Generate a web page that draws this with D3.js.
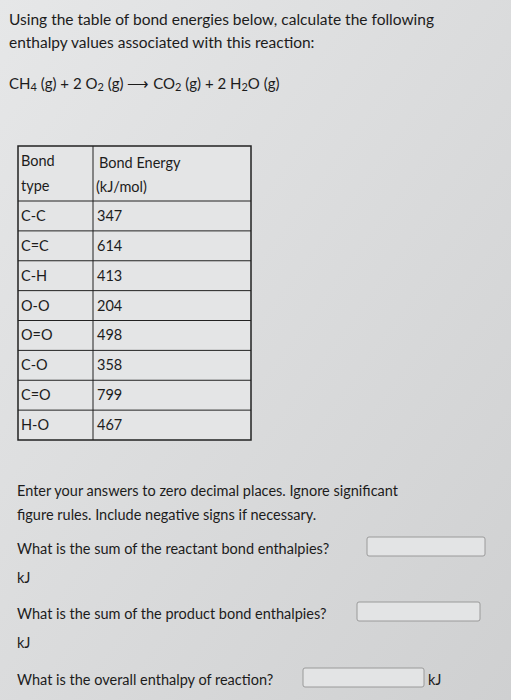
<!DOCTYPE html>
<html><head><meta charset="utf-8">
<script src="https://cdn.jsdelivr.net/npm/d3@7"></script>
<style>body{margin:0;background:#d8d9da}svg{display:block}</style>
</head><body>
<script>
const bonds = ['C-C', 'C=C', 'C-H', 'O-O', 'O=O', 'C-O', 'C=O', 'H-O']
const energies = [347, 614, 413, 204, 498, 358, 799, 467]
const introLines = ['Using the table of bond energies below, calculate the following', 'enthalpy values associated with this reaction:']
const noteLines = ['Enter your answers to zero decimal places. Ignore significant', 'figure rules. Include negative signs if necessary.']
const questions = [
  {q: 'What is the sum of the reactant bond enthalpies?', y: 549, box: [367, 485], unitBelow: true},
  {q: 'What is the sum of the product bond enthalpies?', y: 614, box: [357, 480], unitBelow: true},
  {q: 'What is the overall enthalpy of reaction?', y: 680, box: [303, 424], unitBelow: false}
]

const svg = d3.select('body').append('svg').attr('width', 511).attr('height', 700)
  .style('font-family', 'Lato, sans-serif').style('fill', '#1c1c1c')

const defs = svg.append('defs')
const grad = defs.append('linearGradient').attr('id', 'bg').attr('x1', 0).attr('x2', 1).attr('y1', 0).attr('y2', 1)
grad.append('stop').attr('offset', 0).attr('stop-color', '#e6e7e8')
grad.append('stop').attr('offset', 1).attr('stop-color', '#cfd0d1')
svg.append('rect').attr('width', 511).attr('height', 700).attr('fill', 'url(#bg)')

svg.selectAll('.intro').data(introLines).join('text')
  .attr('x', 9).attr('y', (d, i) => 25 + i * 23).attr('font-size', 15.5).text(d => d)

// equation
const eq = svg.append('text').attr('x', 9).attr('y', 89).attr('font-size', 15)
eq.append('tspan').text('CH')
eq.append('tspan').attr('font-size', 11).attr('dy', 2).text('4')
eq.append('tspan').attr('dy', -2).text(' (g) + 2 O')
eq.append('tspan').attr('font-size', 11).attr('dy', 2).text('2')
eq.append('tspan').attr('dy', -2).text(' (g) ⟶ CO')
eq.append('tspan').attr('font-size', 11).attr('dy', 2).text('2')
eq.append('tspan').attr('dy', -2).text(' (g)  +  2 H')
eq.append('tspan').attr('font-size', 11).attr('dy', 2).text('2')
eq.append('tspan').attr('dy', -2).text('O (g)')

// table
const y = d3.scaleBand().domain(bonds).range([201, 440])
const x0 = 18, x1 = 93, x2 = 251, tableTop = 146
const tbl = svg.append('g')
tbl.append('rect').attr('x', x0).attr('y', tableTop).attr('width', x2 - x0).attr('height', 440 - tableTop)
  .attr('fill', '#e4e5e6').attr('stroke', '#222').attr('stroke-width', 1.5)
tbl.append('line').attr('x1', x1).attr('x2', x1).attr('y1', tableTop).attr('y2', 440).attr('stroke', '#222')
tbl.selectAll('.rl').data(bonds).join('line')
  .attr('x1', x0).attr('x2', x2).attr('y1', d => y(d)).attr('y2', d => y(d)).attr('stroke', '#222')
tbl.append('text').attr('x', 21).attr('y', 166).attr('font-size', 14.5).text('Bond')
tbl.append('text').attr('x', 21).attr('y', 191).attr('font-size', 14.5).text('type')
tbl.append('text').attr('x', 99).attr('y', 168).attr('font-size', 14.5).text('Bond Energy')
tbl.append('text').attr('x', 96).attr('y', 192).attr('font-size', 14.5).text('(kJ/mol)')
tbl.selectAll('.b').data(bonds).join('text')
  .attr('x', 21).attr('y', d => y(d) + y.bandwidth() / 2 + 5).attr('font-size', 14.5).text(d => d)
tbl.selectAll('.e').data(energies).join('text')
  .attr('x', 97).attr('y', (d, i) => y(bonds[i]) + y.bandwidth() / 2 + 5).attr('font-size', 14.5).text(d => d)

svg.selectAll('.note').data(noteLines).join('text')
  .attr('x', 17).attr('y', (d, i) => 496 + i * 24).attr('font-size', 14.5).text(d => d)

const qg = svg.selectAll('.q').data(questions).join('g')
qg.append('text').attr('x', 17).attr('y', d => d.y + 5).attr('font-size', 14.5).text(d => d.q)
qg.append('rect').attr('x', d => d.box[0]).attr('y', d => d.y - 12).attr('width', d => d.box[1] - d.box[0])
  .attr('height', 19).attr('rx', 2).attr('fill', '#e3e4e5').attr('stroke', '#9a9a9a')
qg.append('text').attr('x', d => d.unitBelow ? 17 : d.box[1] + 4)
  .attr('y', d => d.unitBelow ? d.y + 34 : d.y + 5).attr('font-size', 14.5).text('kJ')
</script>
</body></html>
